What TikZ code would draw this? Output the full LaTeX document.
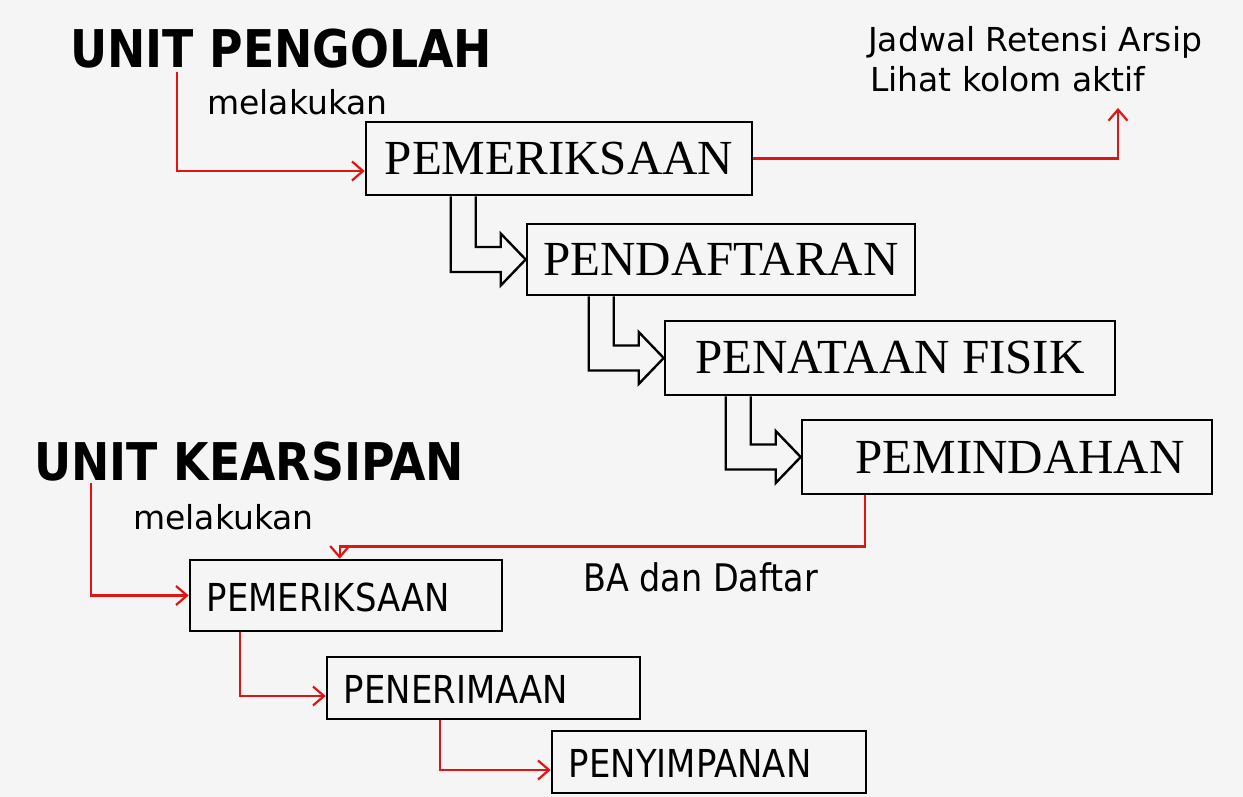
\documentclass[tikz,border=0pt]{standalone}
\usepackage{fontspec}
\setmainfont{Liberation Serif}
\newfontfamily\tahn{DejaVu Sans}
\newfontfamily\tahc{DejaVu Sans}[FakeStretch=0.88]
\newfontfamily\tahb{DejaVu Sans}[FakeStretch=0.88]
\usetikzlibrary{arrows.meta,calc}
\definecolor{bg}{RGB}{245,245,245}
\definecolor{lred}{RGB}{225,20,20}
\newcommand\hollowarr[2]{\draw[hol] let \p1=(#2.west), \p2=(#1.south) in
  (\x1-75pt,\y2) -- (\x1-75pt,\y1-12.5pt) -- (\x1-25pt,\y1-12.5pt) -- (\x1-25pt,\y1-26pt)
  -- (\x1,\y1) -- (\x1-25pt,\y1+26pt) -- (\x1-25pt,\y1+12.5pt) -- (\x1-50pt,\y1+12.5pt)
  -- (\x1-50pt,\y2);}
\begin{document}
\begin{tikzpicture}[x=1pt,y=-1pt,
 bx/.style={draw=black,line width=2.6pt,inner sep=0pt},
 rl/.style={draw=lred,line width=2.4pt,-{Straight Barb[length=11pt,width=19pt,line width=2.2pt]}},
 hol/.style={draw=black,line width=2.4pt,line join=miter},
 sertxt/.style={inner sep=0pt,font=\fontsize{49}{50}\selectfont},
 lowtxt/.style={inner sep=0pt,anchor=west,font=\tahc\fontsize{38.5}{40}\selectfont},
 head/.style={inner sep=0pt,anchor=base west,font=\tahb\bfseries\fontsize{52}{54}\selectfont},
 note/.style={inner sep=0pt,anchor=base west,font=\tahn\fontsize{33}{35}\selectfont}]
\path[fill=bg] (0,0) rectangle (1243,797);
% upper boxes
\node[bx,minimum width=386,minimum height=73] (b1) at (559,158.5) {};
\node[bx,minimum width=388,minimum height=71] (b2) at (721,259.5) {};
\node[bx,minimum width=450,minimum height=74] (b3) at (890,358) {};
\node[bx,minimum width=410,minimum height=74] (b4) at (1007,457) {};
\node[sertxt] (tb1) at (b1.center) {PEMERIKSAAN};
\node[sertxt] (tb2) at (b2.center) {PENDAFTARAN};
\node[sertxt] (tb3) at (b3.center) {PENATAAN FISIK};
\node[sertxt] (tb4) at ($(b4.center)+(13,0)$) {PEMINDAHAN};
% lower boxes
\node[bx,minimum width=312,minimum height=71] (c1) at (346,595.5) {};
\node[bx,minimum width=313,minimum height=62] (c2) at (483.5,688) {};
\node[bx,minimum width=314,minimum height=62] (c3) at (709,762) {};
\node[lowtxt] (tc1) at ($(c1.west)+(18,2)$) {PEMERIKSAAN};
\node[lowtxt] (tc2) at ($(c2.west)+(18,1)$) {PENERIMAAN};
\node[lowtxt] (tc3) at ($(c3.west)+(18,1)$) {PENYIMPANAN};
% hollow arrows
\hollowarr{b1}{b2}
\hollowarr{b2}{b3}
\hollowarr{b3}{b4}
% texts
\node[head] (h1) at (70,68) {UNIT PENGOLAH};
\node[note] (m1) at (207,115) {melakukan};
\node[note] (j1) at (868,52) {Jadwal Retensi Arsip};
\node[note] (j2) at (870,92) {Lihat kolom aktif};
\node[head] (h2) at (34,480) {UNIT KEARSIPAN};
\node[note] (m2) at (133,529) {melakukan};
\node[note,font=\tahc\fontsize{38}{40}\selectfont] (ba) at (583,591) {BA dan Daftar};
% red connectors
\coordinate (s1) at (177,72);
\coordinate (e1) at (1118,108);
\coordinate (s2) at (91,483);
\draw[rl] (s1) |- ($(b1.west)+(0,12.5)$);
\draw[rl] (b1.east) -| (e1);
\draw[rl] ($(b4.south west)+(64,0)$) -- ++(0,51) -| ($(c1.north west)+(151,0)$);
\draw[rl] (s2) |- (c1.west);
\draw[rl] ($(c1.south west)+(51,0)$) |- ($(c2.west)+(0,8)$);
\draw[rl] ($(c2.south west)+(114,0)$) |- ($(c3.west)+(0,8)$);
\end{tikzpicture}
\end{document}
